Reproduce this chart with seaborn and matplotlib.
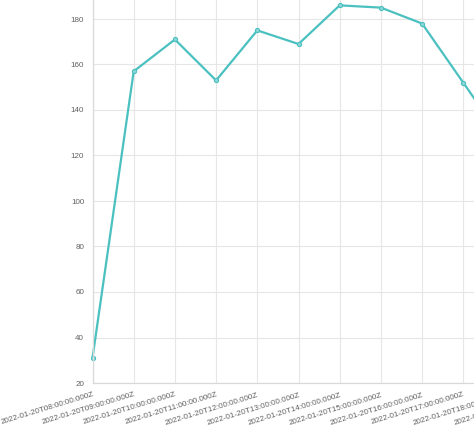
import pandas as pd
import matplotlib.pyplot as plt
import seaborn as sns

# timestamps (category axis) and values
timestamps = [
    "2022-01-20T08:00:00.000Z", "2022-01-20T09:00:00.000Z",
    "2022-01-20T10:00:00.000Z", "2022-01-20T11:00:00.000Z",
    "2022-01-20T12:00:00.000Z", "2022-01-20T13:00:00.000Z",
    "2022-01-20T14:00:00.000Z", "2022-01-20T15:00:00.000Z",
    "2022-01-20T16:00:00.000Z", "2022-01-20T17:00:00.000Z",
    "2022-01-20T18:00:00.000Z", "2022-01-20T19:00:00.000Z",
]
values = [31, 157, 171, 153, 175, 169, 186, 185, 178, 152, 126, 130]
y_ticks = [20, 40, 60, 80, 100, 120, 140, 160, 180]

df = pd.DataFrame({"pos": range(len(timestamps)), "value": values})

sns.set_style("white")
plt.rcParams["font.family"] = ["Liberation Sans", "DejaVu Sans"]

line_color = "#4bc0c0"
grid_color = "#e6e6e6"
text_color = "#606060"

fig = plt.figure(figsize=(4.74, 4.36), dpi=100)
# chart is cropped on the right / top, so the axes run past the canvas
ax = fig.add_axes([92.5 / 474, 53 / 436, 453.2 / 474, 409.5 / 436])

sns.lineplot(data=df, x="pos", y="value", ax=ax, color=line_color,
             linewidth=1.6, marker="o", markersize=3.0,
             markerfacecolor="#8ed6d6", markeredgecolor=line_color,
             markeredgewidth=0.8, clip_on=False)

ax.set_xlim(0, len(timestamps) - 1)
ax.set_ylim(20, 200)
ax.set_xticks(df["pos"])
ax.set_xticklabels(timestamps, rotation=17, ha="right", va="top",
                   rotation_mode="anchor")
ax.set_yticks(y_ticks)
ax.set_xlabel("")
ax.set_ylabel("")

ax.grid(True, color=grid_color, linewidth=0.8)
ax.set_axisbelow(True)
ax.tick_params(axis="both", length=4.5, width=0.8, color=grid_color,
               labelcolor=text_color, labelsize=5.8, pad=1.5)
for side in ["top", "right"]:
    ax.spines[side].set_visible(False)
for side in ["left", "bottom"]:
    ax.spines[side].set_color("#d9d9d9")
    ax.spines[side].set_linewidth(0.9)

fig.savefig("out.png", dpi=100)
